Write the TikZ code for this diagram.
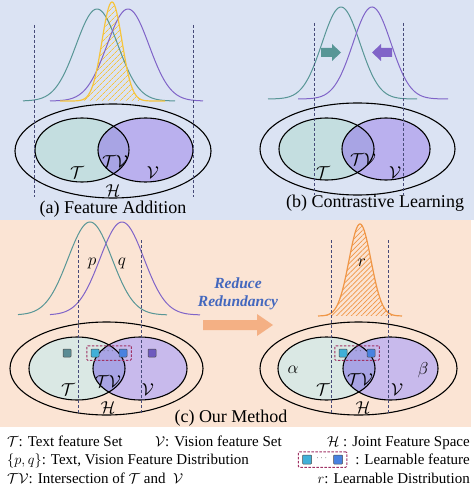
\documentclass[tikz,border=0pt]{standalone}
\usepackage{fontspec}
\setmainfont{Liberation Serif}
\usepackage{amsmath,amssymb}
\usepackage{xcolor}
\usetikzlibrary{positioning,fit,patterns.meta}
\definecolor{bgblue}{RGB}{219,227,243}
\definecolor{bgorange}{RGB}{251,228,212}
\definecolor{tealc}{RGB}{88,150,150}
\definecolor{purplec}{RGB}{128,100,200}
\definecolor{tealfill}{RGB}{196,222,224}
\definecolor{tealfillc}{RGB}{218,232,228}
\definecolor{purplefill}{RGB}{186,176,238}
\definecolor{purplefillc}{RGB}{200,186,236}
\definecolor{interfill}{RGB}{168,164,228}
\definecolor{yellowc}{RGB}{246,196,60}
\definecolor{orangec}{RGB}{240,150,70}
\definecolor{arroworange}{RGB}{244,176,132}
\definecolor{dashc}{RGB}{70,74,120}
\definecolor{textblue}{RGB}{68,104,190}
\definecolor{sqgray}{RGB}{90,140,148}
\definecolor{sqcyan}{RGB}{64,176,216}
\definecolor{sqblue}{RGB}{72,130,224}
\definecolor{sqpurple}{RGB}{110,90,190}
\definecolor{boxred}{RGB}{160,50,100}
\tikzset{
  setline/.style = {draw=black, line width=1.1pt},
  guide/.style   = {draw=dashc, line width=0.8pt, dash pattern=on 3pt off 2pt},
  tcurve/.style  = {draw=tealc, line width=1pt},
  vcurve/.style  = {draw=purplec, line width=1pt},
  lab/.style     = {inner sep=0pt, font=\fontsize{17}{19}\selectfont},
  capt/.style    = {inner sep=0pt, font=\fontsize{18}{20}\selectfont},
  legtext/.style = {inner sep=0pt, font=\fontsize{15}{17}\selectfont},
  redtext/.style = {inner sep=0pt, align=center, text=textblue, font=\fontsize{15.5}{17.5}\selectfont\bfseries\itshape},
  feat/.style    = {draw=black!70, line width=0.5pt, minimum size=8pt, inner sep=0pt, rounded corners=0.8pt},
  featbox/.style = {draw=boxred, line width=1pt, dash pattern=on 2.5pt off 1.5pt, inner xsep=4pt, inner ysep=3pt, rounded corners=1pt},
  dotsmark/.style = {inner sep=0pt, text=black!75, font=\small},
}

\begin{document}
\begin{tikzpicture}[x=1pt, y=-1pt, declare function={bell(\t,\m,\s)=exp(-0.5*((\t-\m)/\s)^2);}]
  \useasboundingbox (0,0) rectangle (474,489);
  \fill[white] (0,0) rectangle (474,489);
  \fill[bgblue] (0,0) rectangle (474,220);
  \fill[bgorange] (0,220) rectangle (471,427);

  % (a) feature addition
  \fill[tealfill] (82,150) ellipse [x radius=47pt, y radius=32pt];
  \fill[purplefill] (145.5,150) ellipse [x radius=47.5pt, y radius=32pt];
  \begin{scope}
    \clip (82,150) ellipse [x radius=47pt, y radius=32pt];
    \fill[interfill] (145.5,150) ellipse [x radius=47.5pt, y radius=32pt];
  \end{scope}
  \draw[setline] (113,151) ellipse [x radius=98pt, y radius=47pt];
  \draw[setline] (82,150) ellipse [x radius=47pt, y radius=32pt];
  \draw[setline] (145.5,150) ellipse [x radius=47.5pt, y radius=32pt];
  \path[pattern={Lines[angle=45,distance=4pt,line width=0.7pt]}, pattern color=yellowc]
    plot[domain=62:162, samples=90] (\x,{101-99*bell(\x,112,10)}) -- cycle;
  \draw[tcurve] plot[domain=23:175, samples=90] (\x,{101-92*bell(\x,97,21)});
  \draw[vcurve] plot[domain=50:203, samples=90] (\x,{101-92*bell(\x,128,21)});
  \draw[draw=yellowc, line width=1.2pt] plot[domain=60:165, samples=90] (\x,{101-99*bell(\x,112,10)});
  \draw[guide] (34,25) -- (34,197);
  \draw[guide] (193,25) -- (193,197);
  \node[lab] (aT) at (77,173) {$\mathcal{T}$};
  \node[lab] (aTV) at (115,162) {$\mathcal{TV}$};
  \node[lab] (aV) at (153,173) {$\mathcal{V}$};
  \node[lab] (aH) at (113,191) {$\mathcal{H}$};
  \node[capt] (capA) at (113,209) {(a) Feature Addition};

  % (b) contrastive learning
  \fill[tealfill] (326.5,149) ellipse [x radius=47.5pt, y radius=31pt];
  \fill[purplefill] (386,149) ellipse [x radius=44pt, y radius=31pt];
  \begin{scope}
    \clip (326.5,149) ellipse [x radius=47.5pt, y radius=31pt];
    \fill[interfill] (386,149) ellipse [x radius=44pt, y radius=31pt];
  \end{scope}
  \draw[setline] (357.5,149) ellipse [x radius=97.5pt, y radius=46pt];
  \draw[setline] (326.5,149) ellipse [x radius=47.5pt, y radius=31pt];
  \draw[setline] (386,149) ellipse [x radius=44pt, y radius=31pt];
  \draw[tcurve] plot[domain=268:417, samples=90] (\x,{99-92*bell(\x,341,19)});
  \draw[vcurve] plot[domain=298:448, samples=90] (\x,{99-92*bell(\x,372,19)});
  \fill[tealc] (321,48) -- (332,48) -- (332,44) -- (341,52.5) -- (332,61) -- (332,57) -- (321,57) -- cycle;
  \fill[purplec] (392,48) -- (381,48) -- (381,44) -- (372,52.5) -- (381,61) -- (381,57) -- (392,57) -- cycle;
  \draw[guide] (314,23) -- (314,195);
  \draw[guide] (403,23) -- (403,195);
  \node[lab] (bT) at (323,173) {$\mathcal{T}$};
  \node[lab] (bTV) at (363,160) {$\mathcal{TV}$};
  \node[lab] (bV) at (395,173) {$\mathcal{V}$};
  \node[capt] (capB) at (375,203) {(b) Contrastive Learning};

  % (c) our method, left
  \fill[tealfillc] (77,368.5) ellipse [x radius=48pt, y radius=31.5pt];
  \fill[purplefillc] (140,368.5) ellipse [x radius=47pt, y radius=31.5pt];
  \begin{scope}
    \clip (77,368.5) ellipse [x radius=48pt, y radius=31.5pt];
    \fill[interfill] (140,368.5) ellipse [x radius=47pt, y radius=31.5pt];
  \end{scope}
  \draw[setline] (106.5,368.5) ellipse [x radius=96.5pt, y radius=46.5pt];
  \draw[setline] (77,368.5) ellipse [x radius=48pt, y radius=31.5pt];
  \draw[setline] (140,368.5) ellipse [x radius=47pt, y radius=31.5pt];
  \draw[tcurve] plot[domain=18:167, samples=90] (\x,{315-93*bell(\x,90,22)});
  \draw[vcurve] plot[domain=50:200, samples=90] (\x,{315-93*bell(\x,122,22)});
  \draw[guide] (78,240) -- (78,413);
  \draw[guide] (141,240) -- (141,413);
  \node[lab] (p) at (92,263) {$p$};
  \node[lab] (q) at (122,263) {$q$};
  \node[feat, fill=sqgray] (sqT) at (67,353) {};
  \node[feat, fill=sqcyan] (sqA) at (95,353) {};
  \node[feat, fill=sqblue] (sqB) at (123,353) {};
  \node[feat, fill=sqpurple] (sqV) at (152,353) {};
  \node[featbox, fit=(sqA)(sqB)] (boxL) {};
  \node[dotsmark] (dotsL) at (109,351) {$\cdots$};
  \node[lab] (cT) at (68,390) {$\mathcal{T}$};
  \node[lab] (cTV) at (108,382) {$\mathcal{TV}$};
  \node[lab] (cV) at (148,390) {$\mathcal{V}$};
  \node[lab] (cH) at (108,408) {$\mathcal{H}$};

  % reduce redundancy
  \node[redtext] (reduce) at (238,294) {Reduce\\Redundancy};
  \fill[arroworange] (203,320) -- (257,320) -- (257,314) -- (273,325) -- (257,336) -- (257,330) -- (203,330) -- cycle;

  % (c) our method, right
  \fill[tealfillc] (326.5,368.5) ellipse [x radius=48.5pt, y radius=31.5pt];
  \fill[purplefillc] (390.5,368.5) ellipse [x radius=47.5pt, y radius=31.5pt];
  \begin{scope}
    \clip (326.5,368.5) ellipse [x radius=48.5pt, y radius=31.5pt];
    \fill[interfill] (390.5,368.5) ellipse [x radius=47.5pt, y radius=31.5pt];
  \end{scope}
  \draw[setline] (358.5,368.5) ellipse [x radius=98.5pt, y radius=46.5pt];
  \draw[setline] (326.5,368.5) ellipse [x radius=48.5pt, y radius=31.5pt];
  \draw[setline] (390.5,368.5) ellipse [x radius=47.5pt, y radius=31.5pt];
  \path[pattern={Lines[angle=45,distance=3.5pt,line width=0.7pt]}, pattern color=orangec]
    plot[domain=320:400, samples=90] (\x,{316-92*bell(\x,360,11)}) -- cycle;
  \draw[draw=orangec, line width=1.2pt] plot[domain=318:402, samples=90] (\x,{316-92*bell(\x,360,11)});
  \draw[guide] (331,240) -- (331,413);
  \draw[guide] (388,240) -- (388,413);
  \node[lab] (r) at (362,263) {$r$};
  \node[feat, fill=sqcyan] (sqC) at (343,353) {};
  \node[feat, fill=sqblue] (sqD) at (371,353) {};
  \node[featbox, fit=(sqC)(sqD)] (boxR) {};
  \node[dotsmark] (dotsR) at (357,351) {$\cdots$};
  \node[lab] (alpha) at (293,370) {$\alpha$};
  \node[lab] (beta) at (423,370) {$\beta$};
  \node[lab] (dT) at (323,390) {$\mathcal{T}$};
  \node[lab] (dTV) at (360,380) {$\mathcal{TV}$};
  \node[lab] (dV) at (397,390) {$\mathcal{V}$};
  \node[lab] (dH) at (363,408) {$\mathcal{H}$};
  \node[capt] (capC) at (231,418) {(c) Our Method};

  % legend
  \node[legtext, anchor=base west] (legT) at (7,446) {$\mathcal{T}$: Text feature Set};
  \node[legtext, anchor=base west] (legV) at (155,446) {$\mathcal{V}$: Vision feature Set};
  \node[legtext, anchor=base east] (legH) at (470,446) {$\mathcal{H}$ : Joint Feature Space};
  \node[legtext, anchor=base west] (legPQ) at (7,464) {$\{p,q\}$: Text, Vision Feature Distribution};
  \node[feat, fill=sqcyan, minimum size=9pt] (lgA) at (307,459.5) {};
  \node[feat, fill=sqblue, minimum size=9pt] (lgB) at (338,459.5) {};
  \node[featbox, fit=(lgA)(lgB)] (lgbox) {};
  \node[dotsmark] (lgdots) at (322.5,458) {$\cdots$};
  \node[legtext, anchor=base east] (legLF) at (470,464) {: Learnable feature};
  \node[legtext, anchor=base west] (legTV) at (7,483) {$\mathcal{TV}$: Intersection of $\mathcal{T}$ and\ \ $\mathcal{V}$};
  \node[legtext, anchor=base east] (legR) at (470,483) {$r$: Learnable Distribution};
\end{tikzpicture}
\end{document}
